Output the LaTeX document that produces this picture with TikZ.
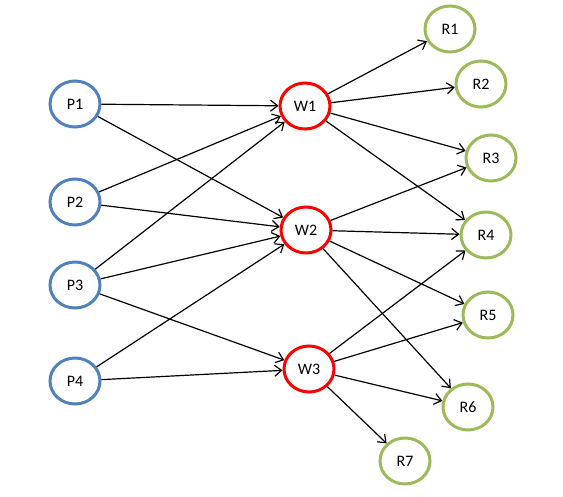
\documentclass[tikz,border=0pt]{standalone}
\usepackage{xcolor}
\usepackage{fontspec}
\setmainfont{Carlito}
\usepackage{tikz}
\usetikzlibrary{arrows.meta,shapes.geometric}

\definecolor{pblue}{RGB}{79,129,189}
\definecolor{wred}{RGB}{255,0,0}
\definecolor{rgreen}{RGB}{155,187,89}

\begin{document}
\begin{tikzpicture}[x=1pt,y=-1pt,
  station/.style={ellipse,draw,line width=3pt,minimum width=50pt,minimum height=46pt,inner sep=0pt,font=\fontsize{16}{19}\selectfont},
  plant/.style={station,draw=pblue},
  ware/.style={station,draw=wred},
  shop/.style={station,draw=rgreen},
  link/.style={black,line width=1.2pt,-{Straight Barb[length=7pt,width=11pt]}}]
\useasboundingbox (0,0) rectangle (563,497);
% plants
\node[plant] (p1) at (75,104) {P1};
\node[plant] (p2) at (75,202) {P2};
\node[plant] (p3) at (75,285) {P3};
\node[plant] (p4) at (75,381) {P4};
% warehouses
\node[ware] (w1) at (305,106) {W1};
\node[ware] (w2) at (306,230) {W2};
\node[ware] (w3) at (309,369) {W3};
% retailers
\node[shop] (r1) at (450,29) {R1};
\node[shop] (r2) at (481,84) {R2};
\node[shop] (r3) at (491,158) {R3};
\node[shop] (r4) at (486,235) {R4};
\node[shop] (r5) at (488,315) {R5};
\node[shop] (r6) at (468,407) {R6};
\node[shop] (r7) at (405,461) {R7};
% plants to warehouses
\draw[link] (p1) -- (w1);
\draw[link] (p1) -- (w2);
\draw[link] (p2) -- (w1);
\draw[link] (p2) -- (w2);
\draw[link] (p3) -- (w1);
\draw[link] (p3) -- (w2);
\draw[link] (p3) -- (w3);
\draw[link] (p4) -- (w2);
\draw[link] (p4) -- (w3);
% warehouses to retailers
\draw[link] (w1) -- (r1);
\draw[link] (w1) -- (r2);
\draw[link] (w1) -- (r3);
\draw[link] (w1) -- (r4);
\draw[link] (w2) -- (r3);
\draw[link] (w2) -- (r4);
\draw[link] (w2) -- (r5);
\draw[link] (w2) -- (r6);
\draw[link] (w3) -- (r4);
\draw[link] (w3) -- (r5);
\draw[link] (w3) -- (r6);
\draw[link] (w3) -- (r7);
\end{tikzpicture}
\end{document}
